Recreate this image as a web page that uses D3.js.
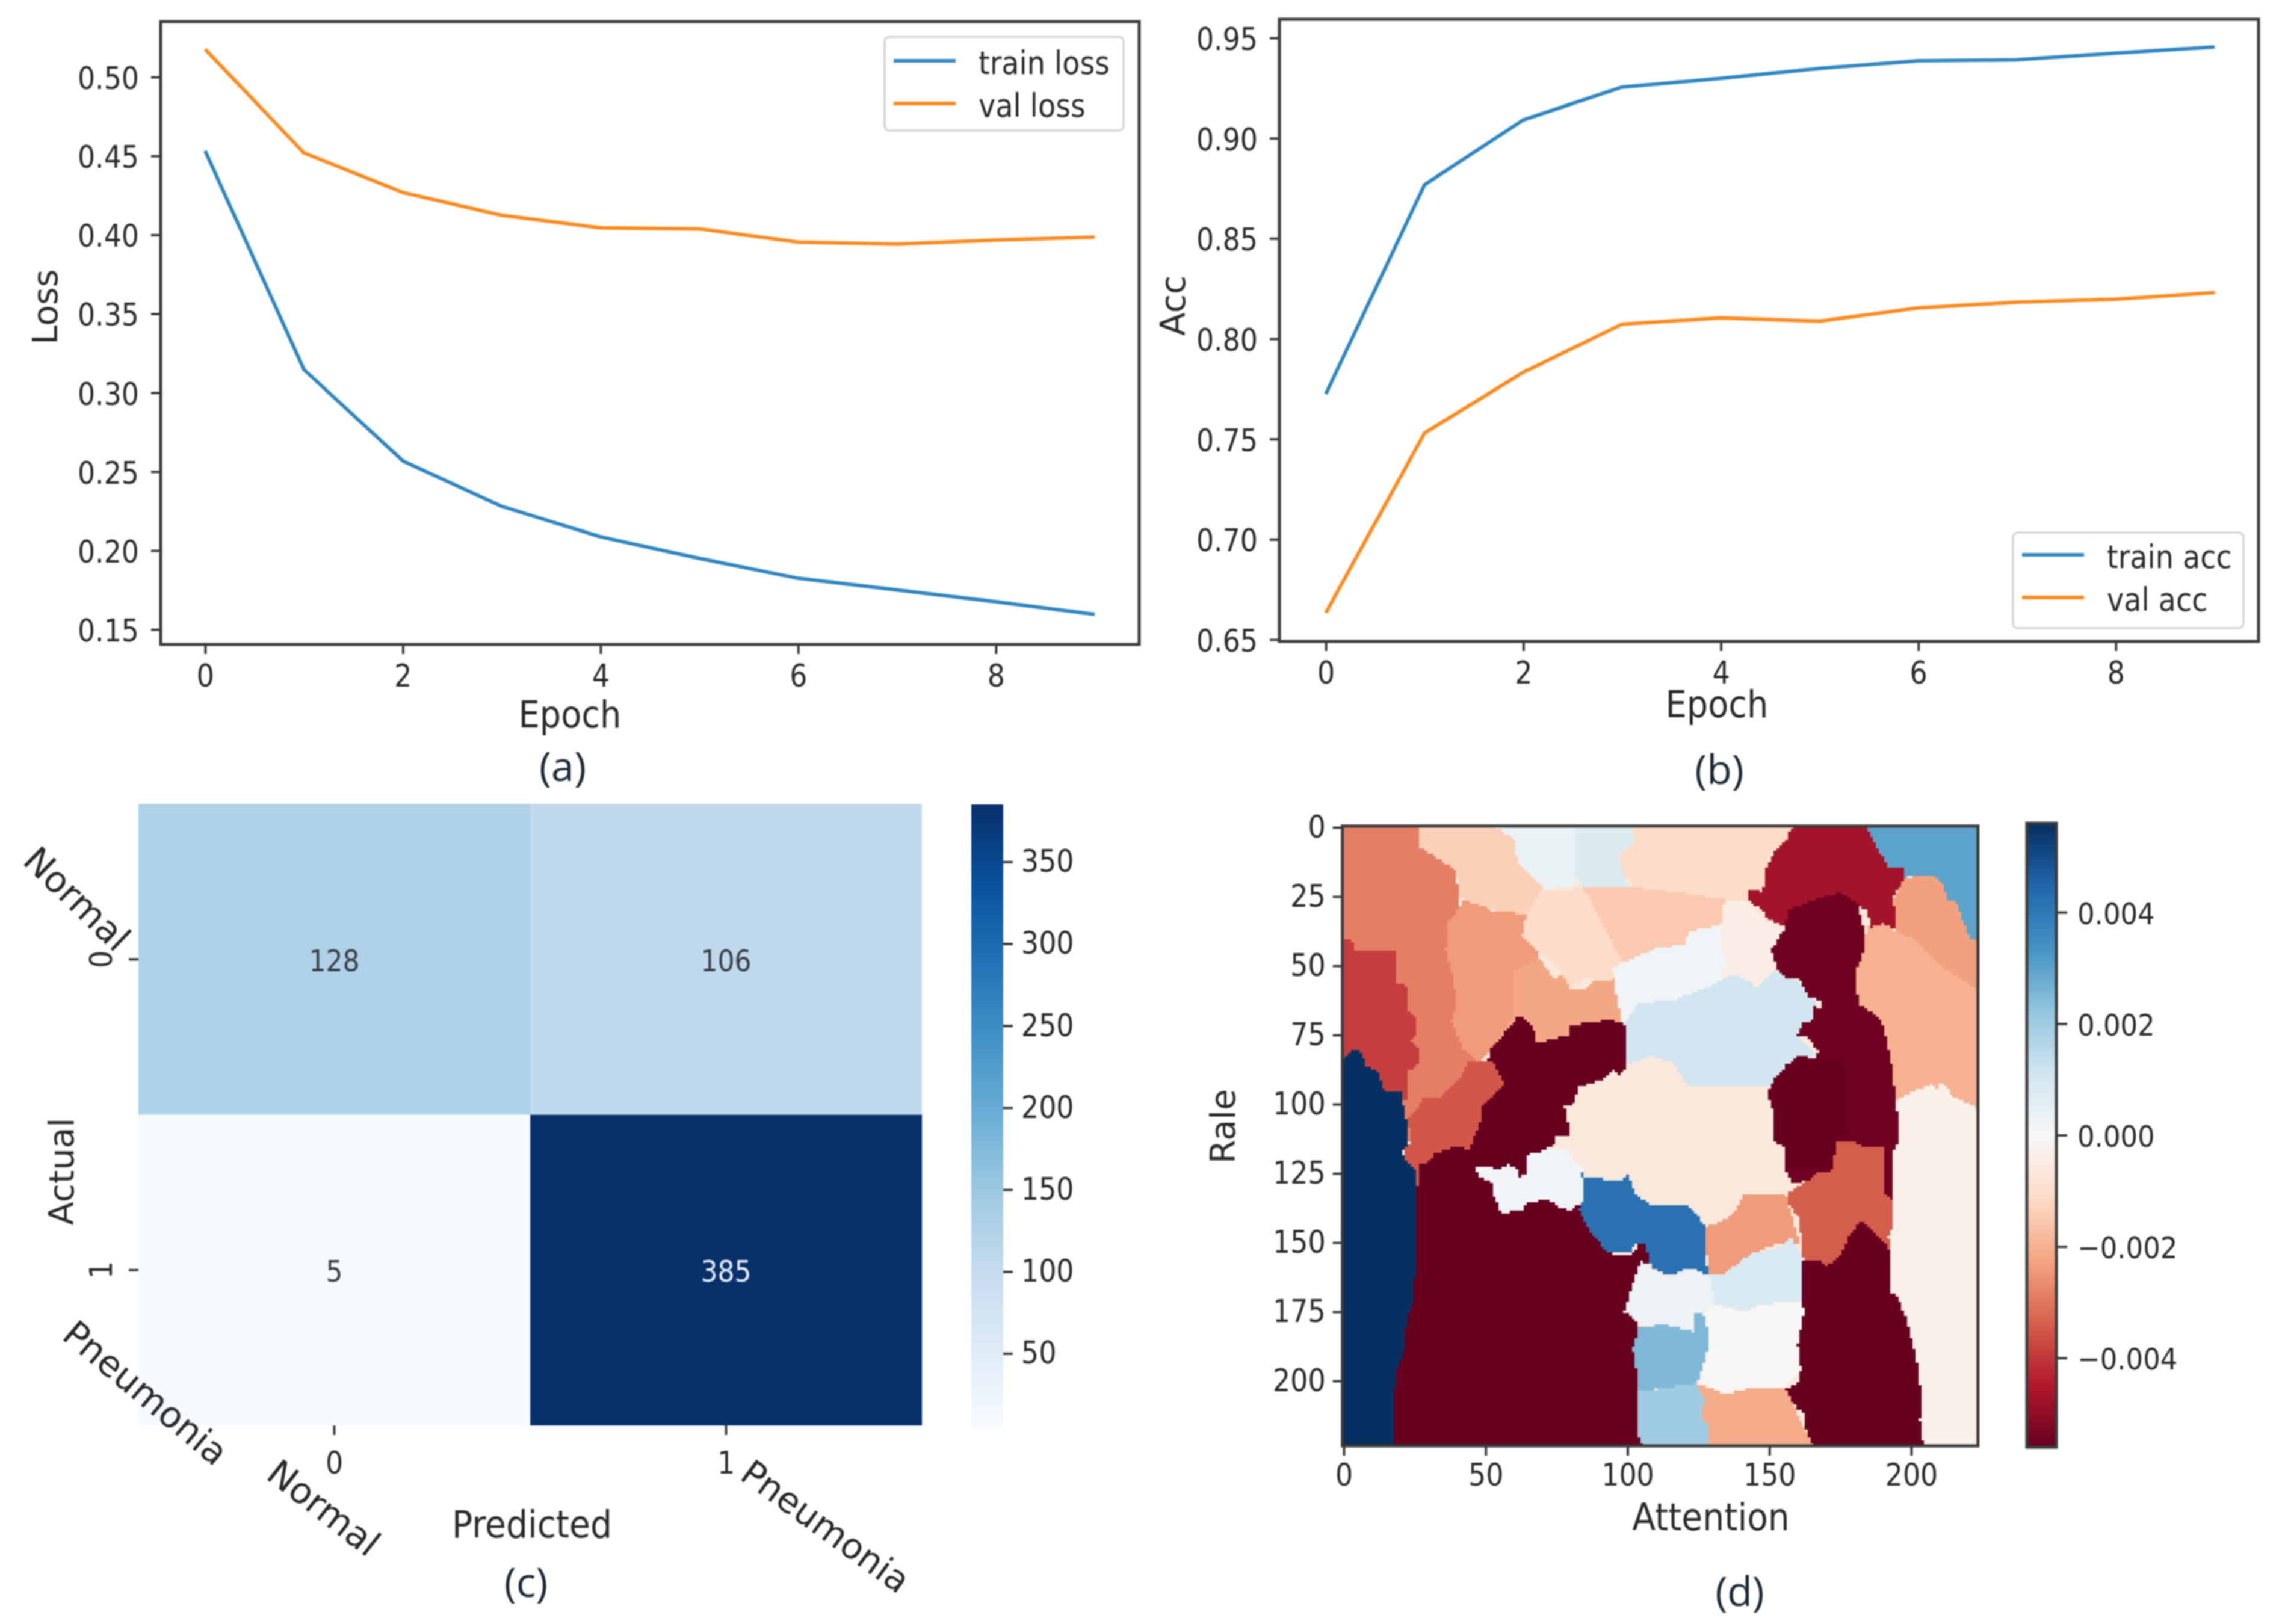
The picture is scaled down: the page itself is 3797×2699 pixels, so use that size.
<!DOCTYPE html>
<html>
<head>
<meta charset="utf-8">
<title>Training curves, confusion matrix and attention map</title>
<script src="https://cdn.jsdelivr.net/npm/d3@7"></script>
<style>
  html, body { margin: 0; padding: 0; background: #fff; }
  svg { display: block; filter: blur(1.1px); }
  text { font-family: "DejaVu Sans", sans-serif; fill: #2a2a2a; }
  .narrow text, text.narrow { font-stretch: condensed; }
  text.caption { font-family: "Open Sans", sans-serif; fill: #1c2a38; }
</style>
</head>
<body>
<div id="chart"></div>
<script>
const epochs = [0, 1, 2, 3, 4, 5, 6, 7, 8, 9]
const epochTicks = [0, 2, 4, 6, 8]

const trainLoss = [0.4532, 0.3146, 0.2568, 0.228, 0.2087, 0.195, 0.1824, 0.175, 0.1676, 0.1596]
const valLoss = [0.5176, 0.4519, 0.4269, 0.4124, 0.4044, 0.4038, 0.3954, 0.3941, 0.3967, 0.3986]
const lossTicks = [0.15, 0.2, 0.25, 0.3, 0.35, 0.4, 0.45, 0.5]

const trainAcc = [0.7725, 0.8768, 0.9091, 0.9255, 0.9298, 0.9348, 0.9386, 0.9391, 0.9424, 0.9455]
const valAcc = [0.6634, 0.753, 0.7833, 0.8073, 0.8104, 0.8088, 0.8154, 0.8182, 0.8197, 0.823]
const accTicks = [0.65, 0.7, 0.75, 0.8, 0.85, 0.9, 0.95]

const confusionRows = [[128, 106], [5, 385]]
const confusionLabels = ['0', '1']
const confusionBarTicks = [50, 100, 150, 200, 250, 300, 350]

const attentionTicksX = [0, 50, 100, 150, 200]
const attentionTicksY = [0, 25, 50, 75, 100, 125, 150, 175, 200]
const attentionBarTicks = [-0.004, -0.002, 0, 0.002, 0.004]
const attentionSize = 224
const attentionBackground = -0.0006

// superpixel regions of the attention map, painted in this order,
// outlines are [column, row] in image pixels
const attentionValues = [
  -0.00285, -0.0024, -0.0022, -0.00135, -0.00105, 0.0004, 0.0008, -0.0011, -0.0015, -0.0004,
  0.0002, 0.0011, -0.0006, -0.002, -0.0023, 0.003, -0.0047, -0.0003, -0.0055, -0.0056,
  -0.0034, -0.0056, -0.0024, -0.0056, 0.0002, -0.0039, -0.0035, 0.0056, 0.0042, 0.0003,
  0.0009, -0.00005, 0.0025, 0.002, -0.0021,
]
const attentionOutlines = [
  [[-1,-1],[27,-1],[27,7],[32,10],[39,15],[41,25],[40,33],[40,44],[44,62],[46,82],[48,88],[44,100],[30,114],[-1,114]],
  [[37,34],[42,27],[49,27],[52,30],[59,31],[65,31],[63,39],[67,41],[69,47],[60,52],[60,68],[52,80],[48,85],[42,80],[38,70],[40,64],[38,52],[36,44]],
  [[60,52],[69,47],[74,55],[78,53],[80,59],[86,58],[89,54],[96,55],[98,72],[98,80],[65,80],[52,80],[60,68]],
  [[27,-1],[52.5,-1],[60,4],[61.5,13],[70.6,22.4],[69,23.2],[64.5,31.5],[54,30],[45,27],[41,25],[39.5,15.5],[27,7]],
  [[64.5,31.5],[69,23.2],[84.2,21.6],[89,30],[98,49],[94,56],[85.7,54.6],[79.7,58],[76,51.4],[67.5,43.8],[63,39]],
  [[52.5,-1],[82,-1],[82,21],[70.6,22.4],[61.5,13],[60,4]],
  [[82,-1],[101,-1],[103,5],[97,10],[98.6,17],[101,22.4],[84.2,21.6],[82,18]],
  [[101,-1],[159,-1],[155.5,5.6],[149.5,10],[148.7,21],[143.4,24.7],[145,27],[134.3,26],[120.6,24],[102.4,21.6],[98.6,17],[97,10],[103,5]],
  [[84.2,21.6],[102.4,21.6],[120.6,24],[134.3,26],[132.8,35.4],[121.4,37.6],[120.6,42.3],[110,43.8],[98,49],[89,30]],
  [[134.3,27],[140.4,26.2],[149.5,34.6],[154.7,37.6],[151,43.8],[151.7,51.4],[145.7,57.5],[138,53],[132.8,56],[134.3,49],[132.8,35.4]],
  [[94.8,50.6],[110,43.8],[120.6,42.3],[121.4,37.6],[132.8,35.4],[134.3,49],[132.8,56],[117.6,62],[104,63.6],[98.6,71],[96.4,63.6]],
  [[98.6,71],[104,63.6],[117.6,62],[132,56],[138,53],[145.7,57.5],[151.7,51.4],[160.8,56],[167,63.6],[165.4,69.7],[160,75.8],[167,81.9],[157,86.4],[150,94],[122,94],[116,85],[108.5,82.6],[99.4,86.4],[99.4,75.8]],
  [[77,102],[82,94],[99,86],[108.5,82.6],[116,85],[122,94],[149.5,94],[151,100],[153,114],[158,129],[142,133],[136.6,137],[136,140.5],[126.7,143.6],[120.6,136.7],[108.5,136.7],[102.4,132],[100,125],[84,126],[80,112],[74,114]],
  [[185,36],[190,34.6],[195,37.6],[201.4,40.6],[203,42.2],[212,51],[225,60],[225,105],[190,105],[180,80],[180,50]],
  [[193.5,26],[197.3,19],[202,17.4],[207.5,17.4],[211.3,20.5],[212.8,26],[215.8,26.7],[223.4,40.7],[225,40.7],[225,60],[212,51],[203,42.2],[201.4,40.6],[194.6,37.6]],
  [[184,-1],[225,-1],[225,40.7],[220.4,39.9],[215.8,26.7],[212.8,26],[211.3,20.5],[207.5,17.4],[202,17.4],[197.3,18.2],[197,14.7],[191.6,14],[189.3,9.6],[185.5,2]],
  [[160,-1],[184,-1],[185.5,2],[189.3,9.6],[191.6,14],[197,14.7],[197.3,19],[193.5,25],[195,36.8],[190,34.8],[185.5,36.4],[184.8,30.5],[181,27.5],[160,40],[155.2,36],[149.2,33],[147.3,29.8],[142.7,26.7],[143,22.4],[146,22.8],[147.6,24.4],[149.2,13.5],[151.4,9.6],[156,5],[156.7,1.8]],
  [[190,102],[197,97.3],[202,95],[206.7,92.7],[209,94.2],[210.5,92],[215,97.3],[225,102],[225,225],[190,225]],
  [[156.7,29.8],[166.6,25.9],[175,23.6],[181,27.5],[183.6,37.6],[183.3,44.5],[181,50.8],[180.2,57],[182,64.3],[186.3,67],[190,71],[191.6,78.7],[193,85.7],[194.6,98],[195.4,106],[195,114.5],[193,117.6],[193.5,134],[191.6,136],[170,135],[166,128],[162,128],[160.5,129],[157.5,128],[155.2,123],[155.2,115.2],[152,113.7],[152.2,112],[151.4,102.8],[149.2,96.6],[151.4,91],[156.7,85.7],[160.5,81.8],[165.5,84.9],[167.3,81],[163.6,75.6],[159.8,75.2],[162,71],[165.5,69.4],[165.8,64.7],[168,65.5],[168.5,62.4],[164.3,61.6],[160.5,54.6],[156,54.6],[153,51.5],[150.7,44.5],[155.2,36.8]],
  [[156,86],[161,82],[166,84],[175,83],[178,90],[178,110],[174,114],[172,124],[155,124],[155.2,115.2],[152,113.7],[151.4,102.8],[149.2,96.6],[151.4,91]],
  [[157,132],[167,125],[172,124],[174,113.7],[179.5,113.7],[185.5,116],[190,115],[191,132.3],[194,136],[194,144],[192,148],[193,152],[170,160],[162,155.6],[160.5,141.6],[157,136]],
  [[162,156.4],[167.3,156.4],[170.4,158.3],[174.5,155.6],[178,147.8],[182.5,141.6],[191,150],[193,155.6],[193,168],[195.4,169.6],[198.4,178],[201.4,189.8],[202.6,196.8],[203.3,204.5],[203,214],[204.5,225],[166,225],[163,217.7],[162,211.5],[160,210],[155.2,203],[160,200.6],[161.3,195.2],[159,190.5],[159.8,184.3],[162,177.4],[162,172],[160.5,164],[162,161]],
  [[128,144.4],[136.6,140.5],[141,133],[156,133],[157,137.5],[161,150.5],[153,150.5],[143.4,154],[134.3,161],[129,162],[127.5,150.5]],
  [[15,225],[15,125],[27,122],[30,121],[32,118],[41,115],[44,117],[48,107],[49,101],[57,93],[51,89],[50,87],[52,80],[61,69],[63,68],[67,73],[68,78],[80,75],[80,71.5],[94,69.5],[99,71],[100,76],[100,87],[97,90],[95,87],[92,91],[83,94],[81,100],[78,101],[80,111],[74.5,112],[74,114.5],[70,117],[65,118.5],[75,125],[84,138],[87.5,143],[90.5,150],[95,155],[101,155],[104.5,150],[108,152],[108,156],[104,163],[103.5,169],[100,174],[104,179],[103,187.5],[102,190.5],[104,194],[103,218.5],[107,225]],
  [[46.5,123],[50,122],[54.5,124],[58,121.5],[62,124],[61,127],[65,124.5],[64,120.7],[65,118.3],[70,116.8],[79,116.4],[81.5,121.4],[84,122],[85,133],[83,135.4],[80,138.5],[76,137],[72,134.6],[64.5,135.4],[63,138.5],[55.4,139.3],[53,133],[52,128.4],[47.7,126]],
  [[-1,41],[3,41],[4,45],[10,44],[19,45],[19,56],[22,57],[23,66],[26,69],[26,75],[24,77],[27,80],[27,85],[23,88],[22,99],[-1,99]],
  [[44,85],[52,84],[57,93],[49,101],[48,107],[44,117],[41,115],[32,118],[30,121],[27,122],[26,130],[25,123],[22,120],[21,116],[23,115],[24,111],[22,106],[25,103],[28,97.5],[35,97],[42,89]],
  [[-1,85],[3,81],[6,81],[8,86],[12,88],[14,94],[16,96],[20,95],[21,100],[22.5,108],[22.5,110],[23,114],[20.5,117],[22,120],[25,123],[26,130],[26,156],[25,163],[25,170],[23,176],[21.5,183],[21,190],[19,196],[18,203],[18,225],[-1,225]],
  [[83.5,122.5],[85,127],[92,127],[98,128],[100,125],[102.4,132],[108.5,137],[122,137],[127.5,144],[127.5,150.5],[128,158],[129,162],[122,159],[114.6,162],[108.5,159],[106,150.5],[102.4,150.5],[101,154],[93.3,154],[87,146],[82.7,138],[85,134]],
  [[104.7,156.6],[108.5,159.6],[114.6,162.7],[122,159],[129,162],[131,172],[126.7,175.6],[128,181],[123.7,182.5],[113,179.5],[104,179.5],[99,175],[102.4,162.7]],
  [[129,162],[134.3,161],[143.4,154],[153,152],[157.8,148],[161.6,155],[161,171],[146.4,172.6],[142,175],[131,172]],
  [[129.7,172],[142,175],[146.4,172.6],[161,171],[162.4,175],[160,187],[161,197],[155.5,202.3],[145,202.3],[134.3,204.6],[125.2,200.8],[128,182.5],[126.7,175.6]],
  [[104,181],[113,179.5],[124,182.5],[123,175.6],[126.7,175.6],[129,184],[127.5,191.6],[124.4,200.8],[114.6,202.3],[104,203.8],[102.4,190],[101.7,188.6]],
  [[104,204],[114.6,202.3],[124.4,200.8],[127.5,207],[126,212.5],[129,217],[128,225],[106,225],[103,217.5]],
  [[124.4,200.8],[134.3,204.6],[145,202.3],[155.5,202.3],[166,225],[128,225],[129,217],[126,212.5],[127.5,207]],
]

const colors = { train: '#2f86c1', val: '#ff8a1f', spine: '#3a3a3a' }
const blues = ['#f7fbff', '#deebf7', '#c6dbef', '#9ecae1', '#6baed6', '#4292c6', '#2171b5', '#08519c', '#08306b']
const rdBu = ['#67001f', '#b2182b', '#d6604d', '#f4a582', '#fddbc7', '#f7f7f7', '#d1e5f0', '#92c5de', '#4393c3', '#2166ac', '#053061']

const svg = d3.select('#chart').append('svg').attr('width', 3797).attr('height', 2699)

function spread(lo, hi, n) {
  return d3.range(n).map(i => lo + (hi - lo) * i / (n - 1))
}

function label(x, y, str, size, rotate, cls) {
  return svg.append('text')
    .attr('class', cls || null)
    .attr('transform', `translate(${x},${y}) rotate(${rotate || 0})`)
    .attr('text-anchor', 'middle')
    .attr('dominant-baseline', 'central')
    .style('font-size', size + 'px')
    .text(str)
}

function styleAxis(sel, size) {
  sel.attr('class', 'narrow').style('font-size', size + 'px').attr('font-family', null)
  sel.select('.domain').remove()
  sel.selectAll('.tick line').attr('stroke', colors.spine).attr('stroke-width', 4)
  sel.selectAll('.tick text').style('font-size', size + 'px')
}

function frame(x0, y0, x1, y1) {
  svg.append('rect')
    .attr('x', x0).attr('y', y0)
    .attr('width', x1 - x0).attr('height', y1 - y0)
    .attr('fill', 'none').attr('stroke', colors.spine).attr('stroke-width', 5)
}

function linePanel(opts) {
  const { box, xDomain, yDomain, yTicks, series, legend } = opts
  const x = d3.scaleLinear().domain(xDomain).range([box.x0, box.x1])
  const y = d3.scaleLinear().domain(yDomain).range([box.y1, box.y0])
  const line = d3.line().x((d, i) => x(epochs[i])).y(d => y(d))

  series.forEach(s => {
    svg.append('path')
      .attr('d', line(s.values))
      .attr('fill', 'none')
      .attr('stroke', s.color)
      .attr('stroke-width', 6)
      .attr('stroke-linejoin', 'round')
  })
  frame(box.x0, box.y0, box.x1, box.y1)

  svg.append('g')
    .attr('transform', `translate(0,${box.y1})`)
    .call(d3.axisBottom(x).tickValues(epochTicks).tickSize(16).tickPadding(18))
    .call(styleAxis, 51)
  svg.append('g')
    .attr('transform', `translate(${box.x0},0)`)
    .call(d3.axisLeft(y).tickValues(yTicks).tickFormat(d3.format('.2f')).tickSize(16).tickPadding(20))
    .call(styleAxis, 51)
    .call(g => g.selectAll('.tick text').attr('dy', '0.38em'))

  svg.append('rect')
    .attr('x', legend.x0).attr('y', legend.y0)
    .attr('width', legend.x1 - legend.x0).attr('height', legend.y1 - legend.y0)
    .attr('rx', 8)
    .attr('fill', '#fff').attr('fill-opacity', 0.85)
    .attr('stroke', '#d9d9d9').attr('stroke-width', 4)
  series.forEach((s, i) => {
    const ly = legend.rows[i]
    svg.append('line')
      .attr('x1', legend.x0 + 15).attr('x2', legend.x0 + 118)
      .attr('y1', ly).attr('y2', ly)
      .attr('stroke', s.color).attr('stroke-width', 6)
    svg.append('text')
      .attr('class', 'narrow')
      .attr('x', legend.x0 + 156).attr('y', ly + 3)
      .attr('dominant-baseline', 'central')
      .style('font-size', '53px')
      .text(s.name)
  })
}

// (a) loss
linePanel({
  box: { x0: 267, x1: 1893, y0: 36, y1: 1071 },
  xDomain: [-0.45, 9.45],
  yDomain: [0.1405, 0.5351],
  yTicks: lossTicks,
  series: [
    { name: 'train loss', values: trainLoss, color: colors.train },
    { name: 'val loss', values: valLoss, color: colors.val },
  ],
  legend: { x0: 1470, x1: 1867, y0: 61, y1: 217, rows: [101, 172] },
})
label(947, 1187, 'Epoch', 62, 0, 'narrow')
label(75, 510, 'Loss', 57, -90)
label(935, 1271, '(a)', 68, 0, 'caption')

// (b) accuracy
linePanel({
  box: { x0: 2126, x1: 3753, y0: 32, y1: 1066 },
  xDomain: [-0.47, 9.445],
  yDomain: [0.6491, 0.9593],
  yTicks: accTicks,
  series: [
    { name: 'train acc', values: trainAcc, color: colors.train },
    { name: 'val acc', values: valAcc, color: colors.val },
  ],
  legend: { x0: 3345, x1: 3728, y0: 885, y1: 1044, rows: [922, 993] },
})
label(2853, 1170, 'Epoch', 62, 0, 'narrow')
label(1949, 508, 'Acc', 57, -90)
label(2857, 1276, '(b)', 68, 0, 'caption')

// (c) confusion matrix
const cellX = d3.scaleBand().domain(confusionLabels).range([230, 1532])
const cellY = d3.scaleBand().domain(confusionLabels).range([1336, 2369])
const bluesScale = d3.scaleLinear().domain(spread(5, 385, blues.length)).range(blues)

confusionRows.forEach((row, r) => {
  row.forEach((v, c) => {
    const rowKey = confusionLabels[r]
    const colKey = confusionLabels[c]
    svg.append('rect')
      .attr('x', cellX(colKey)).attr('y', cellY(rowKey))
      .attr('width', cellX.bandwidth()).attr('height', cellY.bandwidth())
      .attr('fill', bluesScale(v))
    svg.append('text')
      .attr('class', 'narrow')
      .attr('x', cellX(colKey) + cellX.bandwidth() / 2)
      .attr('y', cellY(rowKey) + cellY.bandwidth() / 2 + 3)
      .attr('text-anchor', 'middle')
      .attr('dominant-baseline', 'central')
      .style('font-size', '49px')
      .style('fill', v > 200 ? '#e6edf5' : '#3a3f45')
      .text(v)
  })
})

svg.append('g')
  .attr('transform', 'translate(0,2369)')
  .call(d3.axisBottom(cellX).tickSize(16).tickPadding(28))
  .call(styleAxis, 51)
const leftAxis = svg.append('g')
  .attr('transform', 'translate(230,0)')
  .call(d3.axisLeft(cellY).tickSize(16).tickPadding(14))
  .call(styleAxis, 51)
leftAxis.selectAll('.tick text')
  .attr('transform', 'rotate(-90) translate(0,-44)')
  .attr('x', 0).attr('y', 0)
  .attr('dy', 0)
  .attr('text-anchor', 'middle')

const barC = d3.scaleLinear().domain([5, 385]).range([2372, 1337])
svg.append('g').selectAll('rect')
  .data(d3.range(5, 385, 1))
  .join('rect')
  .attr('x', 1614).attr('width', 53)
  .attr('y', d => barC(d + 1))
  .attr('height', d => barC(d) - barC(d + 1) + 1)
  .attr('fill', d => bluesScale(d))
svg.append('g')
  .attr('transform', 'translate(1667,0)')
  .call(d3.axisRight(barC).tickValues(confusionBarTicks).tickSize(16).tickPadding(14))
  .call(styleAxis, 51)

label(128, 1494, 'Normal', 60, 44)
label(242, 2315, 'Pneumonia', 60, 40)
label(538, 2506, 'Normal', 60, 38)
label(1372, 2537, 'Pneumonia', 59, 36)
label(884, 2533, 'Predicted', 63, 0, 'narrow')
label(102, 1947, 'Actual', 57, -90)
label(874, 2627, '(c)', 68, 0, 'caption')

// (d) attention map, regions are rasterised to image pixels first
const attX = d3.scaleLinear().domain([0, 200]).range([2233, 3176])
const attY = d3.scaleLinear().domain([0, 200]).range([1375, 2295])
const rdBuScale = d3.scaleLinear().domain(spread(-0.0056, 0.0056, rdBu.length)).range(rdBu)

const attention = d3.range(attentionSize).map(() => new Array(attentionSize).fill(attentionBackground))
attentionOutlines.forEach((outline, k) => {
  const [x0, x1] = d3.extent(outline, p => p[0])
  const [y0, y1] = d3.extent(outline, p => p[1])
  for (let r = Math.max(0, Math.floor(y0)); r < Math.min(attentionSize, Math.ceil(y1) + 1); r++) {
    for (let c = Math.max(0, Math.floor(x0)); c < Math.min(attentionSize, Math.ceil(x1) + 1); c++) {
      if (d3.polygonContains(outline, [c, r])) attention[r][c] = attentionValues[k]
    }
  }
})

// join equal neighbours in a row so the page is not 50000 rects
const attentionRuns = []
attention.forEach((row, r) => {
  let start = 0
  for (let c = 1; c <= attentionSize; c++) {
    if (c === attentionSize || row[c] !== row[start]) {
      attentionRuns.push({ r, c0: start, c1: c - 1, v: row[start] })
      start = c
    }
  }
})

svg.append('g')
  .attr('shape-rendering', 'crispEdges')
  .selectAll('rect')
  .data(attentionRuns)
  .join('rect')
  .attr('x', d => attX(d.c0 - 0.5))
  .attr('y', d => attY(d.r - 0.5))
  .attr('width', d => attX(d.c1 + 0.5) - attX(d.c0 - 0.5))
  .attr('height', d => attY(d.r + 0.5) - attY(d.r - 0.5))
  .attr('fill', d => rdBuScale(d.v))
frame(attX(-0.5), attY(-0.5), attX(223.5), attY(223.5))

svg.append('g')
  .attr('transform', `translate(0,${attY(223.5)})`)
  .call(d3.axisBottom(attX).tickValues(attentionTicksX).tickSize(16).tickPadding(14))
  .call(styleAxis, 51)
svg.append('g')
  .attr('transform', `translate(${attX(-0.5)},0)`)
  .call(d3.axisLeft(attY).tickValues(attentionTicksY).tickSize(16).tickPadding(12))
  .call(styleAxis, 51)

const barD = d3.scaleLinear().domain([-0.0056, 0.0056]).range([2405, 1368])
const barSteps = d3.range(0, 256)
const barValue = d3.scaleLinear().domain([0, 256]).range(barD.domain())
svg.append('g').selectAll('rect')
  .data(barSteps)
  .join('rect')
  .attr('x', 3368).attr('width', 49)
  .attr('y', d => barD(barValue(d + 1)))
  .attr('height', d => barD(barValue(d)) - barD(barValue(d + 1)) + 1)
  .attr('fill', d => rdBuScale(barValue(d + 0.5)))
frame(3368, 1368, 3417, 2405)
svg.append('g')
  .attr('transform', 'translate(3417,0)')
  .call(d3.axisRight(barD).tickValues(attentionBarTicks).tickFormat(d3.format('.3f')).tickSize(18).tickPadding(17))
  .call(styleAxis, 50)
  .call(g => g.selectAll('.tick text').attr('dy', '0.38em'))

label(2843, 2521, 'Attention', 63, 0, 'narrow')
label(2032, 1872, 'Rale', 57, -90)
label(2891, 2642, '(d)', 68, 0, 'caption')
</script>
</body>
</html>
